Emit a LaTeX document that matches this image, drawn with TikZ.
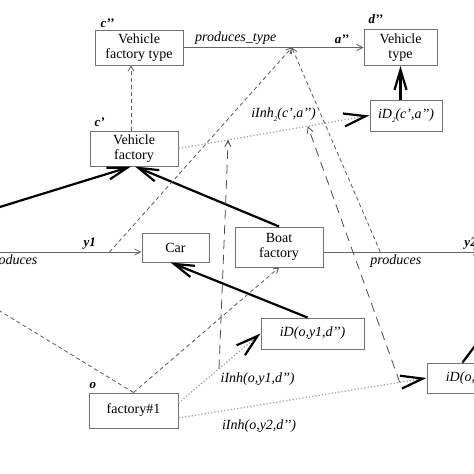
\documentclass[tikz,border=0pt]{standalone}
\usepackage{fontspec}
\setmainfont{Liberation Serif}
\usetikzlibrary{arrows.meta,positioning}

\tikzset{
  box/.style={rectangle,draw=black!55,line width=1pt,align=center,inner sep=0pt,font=\fontsize{14}{15}\selectfont},
  lbl/.style={font=\fontsize{13}{15}\selectfont\bfseries\itshape,inner sep=1pt},
  rel/.style={font=\fontsize{14}{15}\selectfont\itshape,inner sep=1pt},
  isa/.style={line width=2.2pt,-{Straight Barb[length=20pt,width=12pt]}},
  link/.style={draw=black!60,line width=0.8pt,-{Straight Barb[length=6pt,width=6pt]}},
  inh/.style={draw=black!35,line width=1.3pt,dotted,-{Straight Barb[length=22pt,width=13pt,line width=2.2pt,color=black]}},
  inst/.style={draw=black!65,line width=0.8pt,dash pattern=on 4pt off 3pt,-{Straight Barb[length=5pt,width=6pt]}},
  meta/.style={draw=black!70,line width=0.8pt,dash pattern=on 9pt off 6pt,-{Straight Barb[length=6pt,width=6pt]}}
}
\newcommand{\sub}[1]{\raisebox{-4pt}{\fontsize{7}{7}\selectfont #1}}

\begin{document}
\begin{tikzpicture}[x=1pt,y=-1pt]
  \useasboundingbox (0,0) rectangle (474,474);
  \clip (0,0) rectangle (474,474);

  \node[box,minimum width=88pt,minimum height=35pt] (vft) at (139,47.5) {Vehicle\\factory type};
  \node[box,minimum width=73pt,minimum height=36pt] (vt) at (400.5,47.5) {Vehicle\\type};
  \node[box,minimum width=88pt,minimum height=35pt] (vf) at (134,148.5) {Vehicle\\factory};
  \node[box,minimum width=72pt,minimum height=31pt,font=\fontsize{14}{15}\selectfont\itshape] (id2) at (406,115.5) {iD\sub{2}(c{'},a{'}{'})};
  \node[box,minimum width=67pt,minimum height=29pt] (car) at (175.5,247.5) {Car};
  \node[box,minimum width=88pt,minimum height=40pt] (bf) at (279,247) {Boat\\factory};
  \node[box,minimum width=103pt,minimum height=31pt,font=\fontsize{14}{15}\selectfont\itshape] (idy1) at (312.5,333.5) {iD(o,y1,d{'}{'})};
  \node[box,minimum width=103pt,minimum height=30pt,font=\fontsize{14}{15}\selectfont\itshape] (idy2) at (478.5,378) {iD(o,y2,d{'}{'})};
  \node[box,minimum width=89pt,minimum height=35pt] (f1) at (133.5,410.5) {factory\#1};

  \node[lbl,anchor=south west] (cpp) at ([xshift=5pt,yshift=1pt]vft.north west) {c{'}{'}};
  \node[lbl,anchor=south west] (cp) at ([xshift=4pt,yshift=3pt]vf.north west) {c{'}};
  \node[lbl,anchor=south west] (dpp) at ([xshift=4pt,yshift=4pt]vt.north west) {d{'}{'}};
  \node[lbl,anchor=south west] (o) at ([xshift=0pt,yshift=3pt]f1.north west) {o};

  \coordinate (lf) at (-5,208.5);
  \coordinate (pl) at (-5,252);
  \coordinate (pr) at (480,252);
  \coordinate (lo) at (-5,308);
  \coordinate (ne) at (490,326);

  \draw[link] (vft) -- coordinate[pos=0.602] (ptype)
    node[rel,pos=0.29,above=2pt] {produces\_type}
    node[lbl,pos=0.88,above=2pt] {a{'}{'}} (vt);
  \draw[inst] ([xshift=-3pt]vf.north) -- ([xshift=-3pt]vf.north |- vft.south);
  \draw[isa] (id2.north -| vt.south) -- (vt.south);

  \draw[inh] (vf.east) -- coordinate[pos=0.26] (ia) coordinate[pos=0.677] (ib)
    node[rel,pos=0.55,above=7pt] {iInh\sub{2}(c{'},a{'}{'})} (id2.west);

  \draw[isa] (lf) -- ([xshift=-3pt]vf.south);
  \draw[isa] (bf.north) -- ([xshift=1pt]vf.south);
  \draw[isa] ([xshift=-5pt]idy1.north) -- ([xshift=-5pt]car.south);
  \draw[line width=2.2pt] ([xshift=36pt]idy2.north west) -- (ne);

  \draw[link] (pl) -- coordinate[pos=0.782] (y1pt)
    node[lbl,pos=0.646,above=1pt] {y1}
    node[rel,pos=0.116,below=1pt] {produces} (pl -| car.west);
  \draw[link] (bf.east |- pl) -- coordinate[pos=0.363] (y2pt)
    node[rel,pos=0.462,below=1pt] {produces}
    node[lbl,pos=0.94,above=1pt] {y2} (pr);

  \draw[inst] (f1.north) -- (bf.south);
  \draw[inst,-] (f1.north) -- (lo);
  \draw[inst] (y1pt) -- (ptype);
  \draw[inst] (y2pt) -- (ptype);

  \draw[inh] ([yshift=7.5pt]f1.east) -- coordinate[pos=0.494] (i1)
    node[rel,pos=0.494,anchor=north west,yshift=-2pt] {iInh(o,y1,d{'}{'})} (idy1.west);
  \draw[inh] ([yshift=-7.5pt]f1.east) -- coordinate[pos=0.892] (i2)
    node[rel,pos=0.169,anchor=north west,yshift=-7pt] {iInh(o,y2,d{'}{'})} (idy2.west);

  \draw[meta] (i1) -- (ia);
  \draw[meta] (i2) -- (ib);
\end{tikzpicture}
\end{document}
